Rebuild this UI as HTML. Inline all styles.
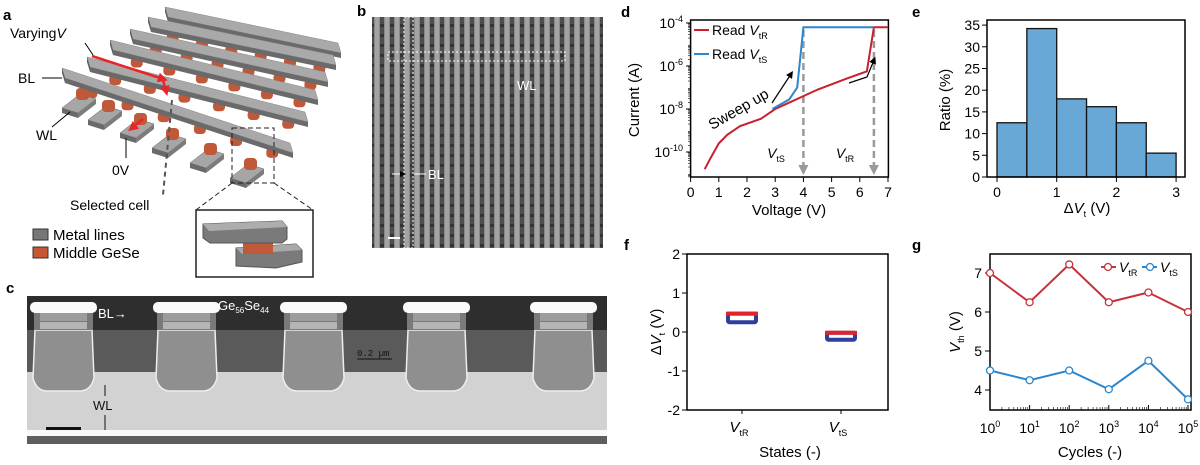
<!DOCTYPE html>
<html><head><meta charset="utf-8">
<style>
html,body{margin:0;padding:0;background:#fff;}
svg{display:block;font-family:"Liberation Sans",Arial,sans-serif;}
</style></head>
<body>
<svg id="fig" width="1200" height="465" viewBox="0 0 1200 465" xmlns="http://www.w3.org/2000/svg">
<defs>
<pattern id="sem" width="10" height="10" patternUnits="userSpaceOnUse">
<rect width="10" height="10" fill="#8a8a8a"/>
<rect x="0" y="0" width="4" height="10" fill="#4d4d4d"/>
<rect x="0" y="4" width="4" height="3" fill="#333"/>
<rect x="5" y="0" width="4" height="10" fill="#a3a3a3"/>
</pattern>
<marker id="ah" markerWidth="6" markerHeight="6" refX="3" refY="3" orient="auto"><path d="M0,0 L6,3 L0,6 z" fill="#000"/></marker>
<marker id="ahr" markerWidth="4" markerHeight="4" refX="2" refY="2" orient="auto"><path d="M0,0 L4,2 L0,4 z" fill="#e8252a"/></marker>
<marker id="ahg" markerWidth="4" markerHeight="4" refX="2" refY="2" orient="auto"><path d="M0,0 L4,2 L0,4 z" fill="#999"/></marker>
</defs>

<!-- Panel a -->
<g id="panel-a">
<text x="3" y="20" font-size="15" font-weight="bold">a</text>
<g id="a-bars"></g>
<polyline points="92,56 163,79" fill="none" stroke="#e8252a" stroke-width="2.5" marker-end="url(#ahr)"/>
<line x1="163" y1="80" x2="166" y2="91" stroke="#e8252a" stroke-width="2.5" marker-end="url(#ahr)"/>
<line x1="143" y1="119" x2="132" y2="128" stroke="#e8252a" stroke-width="2.5" marker-end="url(#ahr)"/>
<text x="10" y="38" font-size="14">Varying<tspan font-style="italic">V</tspan></text>
<line x1="85" y1="43" x2="93" y2="55" stroke="#000"/>
<text x="18" y="83" font-size="14">BL</text>
<line x1="42" y1="78" x2="62" y2="78" stroke="#000"/>
<text x="36" y="140" font-size="14">WL</text>
<line x1="52" y1="127" x2="70" y2="112" stroke="#000"/>
<text x="112" y="175" font-size="14">0V</text>
<line x1="126" y1="138" x2="126" y2="158" stroke="#000"/>
<text x="70" y="210" font-size="14">Selected cell</text>
<line x1="172" y1="100" x2="163" y2="195" stroke="#555" stroke-width="2" stroke-dasharray="5,4"/>
<rect x="232" y="128" width="42" height="55" fill="none" stroke="#222" stroke-dasharray="5,3"/>
<line x1="232" y1="183" x2="196" y2="210" stroke="#222" stroke-dasharray="5,3"/>
<line x1="274" y1="183" x2="313" y2="210" stroke="#222" stroke-dasharray="5,3"/>
<rect x="196" y="210" width="117" height="67" fill="#fff" stroke="#222" stroke-width="1.5"/>
<polygon points="236,248 296,244 302,250 302,262 276,268 236,266" fill="#7a7a7a" stroke="#555"/>
<polygon points="236,248 296,244 302,250 242,254" fill="#a9a9a9"/>
<rect x="243" y="236" width="30" height="18" fill="#c0583a"/>
<polygon points="203,224 282,221 287,227 287,239 282,243 210,243 203,238" fill="#7a7a7a" stroke="#555"/>
<polygon points="203,224 282,221 287,227 209,231" fill="#adadad"/>
<rect x="33" y="229" width="15" height="11" fill="#777" stroke="#333"/>
<text x="53" y="240" font-size="15">Metal lines</text>
<rect x="33" y="247" width="15" height="11" fill="#c8572f" stroke="#333"/>
<text x="53" y="258" font-size="15">Middle GeSe</text>
</g>

<!-- Panel b -->
<g id="panel-b">
<text x="357" y="16" font-size="15" font-weight="bold">b</text>
<rect x="372" y="17" width="231" height="231" fill="url(#sem)"/>
<rect x="404" y="17" width="9" height="231" fill="none" stroke="#fff" stroke-dasharray="2,2"/>
<rect x="388" y="52" width="177" height="9" fill="none" stroke="#fff" stroke-dasharray="2,2"/>
<text x="517" y="90" font-size="13" fill="#fff">WL</text>
<text x="428" y="179" font-size="13" fill="#fff">BL</text>
<line x1="392" y1="174" x2="403" y2="174" stroke="#fff" marker-end="url(#ah)"/>
<line x1="426" y1="174" x2="414" y2="174" stroke="#fff"/>
<rect x="388" y="237" width="12" height="2" fill="#fff"/>
</g>

<!-- Panel c -->
<g id="panel-c">
<text x="6" y="293" font-size="15" font-weight="bold">c</text>
<rect x="27" y="296" width="580" height="34" fill="#2e2e2e"/>
<rect x="27" y="330" width="580" height="42" fill="#5a5a5a"/>
<rect x="27" y="372" width="580" height="58" fill="#d2d2d2"/>
<rect x="27" y="430" width="580" height="6" fill="#f8f8f8"/>
<rect x="27" y="436" width="580" height="8" fill="#5e5e5e"/>
<g id="c-pillars"></g>
<text x="98" y="318" font-size="13" fill="#fff">BL→</text>
<text x="218" y="310" font-size="13" fill="#fff">Ge<tspan font-size="8" dy="3">56</tspan><tspan dy="-3">Se</tspan><tspan font-size="8" dy="3">44</tspan></text>
<text x="357" y="356" font-size="9" fill="#111" font-family="Liberation Mono,monospace">0.2 µm</text>
<line x1="357" y1="359" x2="392" y2="359" stroke="#111"/>
<text x="93" y="410" font-size="13" fill="#111">WL</text>
<line x1="105" y1="385" x2="105" y2="396" stroke="#111"/>
<line x1="105" y1="415" x2="105" y2="430" stroke="#111"/>
<rect x="46" y="427" width="35" height="3" fill="#111"/>
</g>

<g id="chart-d"></g>
<g id="chart-e"></g>
<g id="chart-f"></g>
<g id="chart-g"></g>
</svg>

<script>
// ---------- chart data ----------
const dRedV = [0.5,0.7,1.0,1.3,1.75,2.5,3.0,3.5,4.0,4.5,5.0,5.5,6.25,6.5,7.0];
const dRedLogI = [-10.8,-10.3,-9.6,-9.2,-8.8,-8.45,-8.0,-7.7,-7.4,-7.1,-6.85,-6.6,-6.25,-4.2,-4.2];
const dBlueV = [2.9,3.5,3.78,4.0,6.5];
const dBlueLogI = [-8.0,-7.55,-7.0,-4.2,-4.2];
const dXTicks = [0,1,2,3,4,5,6,7];
const dYTicks = [-4,-6,-8,-10];
const dThresholds = [4.0,6.5];

const eBinEdges = [0,0.5,1.0,1.5,2.0,2.5,3.0];
const eRatios = [12.5,34.2,18.0,16.2,12.5,5.5];
const eXTicks = [0,1,2,3];
const eYTicks = [0,5,10,15,20,25,30,35];

const fCategories = ['tR','tS'];
const fTop = [0.47,-0.02];
const fBottom = [0.25,-0.2];
const fYTicks = [2,1,0,-1,-2];

const gCycles = [0,1,2,3,4,5];
const gVtR = [7.0,6.25,7.22,6.25,6.5,6.0];
const gVtS = [4.5,4.25,4.5,4.02,4.75,3.76];
const gYTicks = [4,5,6,7];

const NS = 'http://www.w3.org/2000/svg';
function mk(parent, tag, attrs, text){
  const el = document.createElementNS(NS, tag);
  for (const k in attrs) el.setAttribute(k, attrs[k]);
  if (text !== undefined) el.textContent = text;
  parent.appendChild(el);
  return el;
}

// ---------- panel a bars ----------
(function(){
  const g = document.getElementById('a-bars');
  const starts = [[165,7],[148,17],[130,29],[110,40],[87,57],[62,68]];
  const ends = [[338,43],[333,55],[325,72],[315,90],[305,112],[290,143]];
  const stubs = [[62,108],[88,120],[120,133],[152,148],[190,163],[230,178]];
  // cylinders under rear bars
  starts.forEach((s,i)=>{
    const e = ends[i];
    for(let k=1;k<=6;k++){
      const t = (k-0.3)/6.3;
      const cx = s[0]+(e[0]-s[0])*t+4, cy = s[1]+(e[1]-s[1])*t+12;
      mk(g,'rect',{x:cx-6,y:cy,width:12,height:10,rx:4,fill:'#c0583a'});
    }
  });
  // wordline stubs
  stubs.forEach((s)=>{
    const [x,y]=s;
    const p = mk(g,'polygon',{points:`${x},${y} ${x+16},${y+5} ${x+34},${y-9} ${x+18},${y-14}`, fill:'#a6a6a6', stroke:'#666','stroke-width':0.5});
    
    
    mk(g,'polygon',{points:`${x},${y} ${x+16},${y+5} ${x+16},${y+10} ${x},${y+5}`, fill:'#6a6a6a'});
    mk(g,'polygon',{points:`${x+16},${y+5} ${x+34},${y-9} ${x+34},${y-4} ${x+16},${y+10}`, fill:'#7c7c7c'});
    mk(g,'rect',{x:x+14,y:y-20,width:13,height:12,rx:4,fill:'#c0583a'});
  });
  // bit line bars (back to front)
  starts.forEach((s,i)=>{
    const e = ends[i];
    const [sx,sy]=s,[ex,ey]=e;
    const top = mk(g,'polygon',{points:`${sx},${sy} ${ex},${ey} ${ex+3},${ey+10} ${sx+3},${sy+10}`, fill:'#a9a9a9', stroke:'#888','stroke-width':0.5});
    
    
    mk(g,'polygon',{points:`${sx+3},${sy+10} ${ex+3},${ey+10} ${ex+3},${ey+15} ${sx+3},${sy+15}`, fill:'#6a6a6a'});
    mk(g,'polygon',{points:`${sx},${sy} ${sx+3},${sy+10} ${sx+3},${sy+15} ${sx},${sy+5}`, fill:'#5e5e5e'});
  });
})();

// ---------- panel c pillars ----------
(function(){
  const g = document.getElementById('c-pillars');
  const px = [32,155,282,405,532];
  px.forEach(x=>{
    const w=63;
    const b = mk(g,'path',{d:`M${x+3},330 L${x+w-3},330 L${x+w-1},378 Q${x+w-4},390 ${x+w-14},391 L${x+14},391 Q${x+4},390 ${x+1},378 Z`, fill:'#8f8f8f', stroke:'#eee','stroke-width':1.5});
    
    
    mk(g,'rect',{x:x+2,y:313,width:w-4,height:17,fill:'#7a7a7a'});
    mk(g,'rect',{x:x+8,y:322,width:w-16,height:7,fill:'#b5b5b5'});
    mk(g,'rect',{x:x+8,y:313,width:w-16,height:8,fill:'#9c9c9c'});
    mk(g,'rect',{x:x-2,y:302,width:w+4,height:11,rx:5,fill:'#fafafa'});
  });
})();

// ---------- chart d ----------
(function(){
  const g = document.getElementById('chart-d');
  const X0=690.6, XS=28.2, Y4=23, DEC=21.5;
  const x = v => X0 + v*XS;
  const y = L => Y4 + (-4-L)*DEC;
  mk(g,'text',{x:621,y:17,'font-size':15,'font-weight':'bold'},'d');
  const fr = mk(g,'rect',{x:690.6,y:20,width:197.8,height:157,fill:'none',stroke:'#000','stroke-width':1.5});
  
  
  dXTicks.forEach(v=>{
    mk(g,'line',{x1:x(v),y1:177,x2:x(v),y2:182,stroke:'#000'});
    const t = mk(g,'text',{x:x(v),y:197,'font-size':14,'text-anchor':'middle'},String(v));
    
    
  });
  dYTicks.forEach(L=>{
    mk(g,'line',{x1:686,y1:y(L),x2:690.6,y2:y(L),stroke:'#000'});
    const t = mk(g,'text',{x:683,y:y(L)+5,'font-size':14,'text-anchor':'end'});
    
    
    mk(t,'tspan',{},'10');
    mk(t,'tspan',{'font-size':9,dy:-6},String(L));
  });
  for(let L=-4;L>-11.2;L-=1){ for(let k=2;k<10;k++){ const yy=y(L-1+Math.log10(k)); if(yy<177) mk(g,'line',{x1:688,y1:yy,x2:690.6,y2:yy,stroke:'#000','stroke-width':0.6}); } }
  dThresholds.forEach(v=>{
    const l = mk(g,'line',{x1:x(v),y1:30,x2:x(v),y2:170,stroke:'#999','stroke-width':2.5,'stroke-dasharray':'7,4','marker-end':'url(#ahg)'});
    
    
  });
  const rp = mk(g,'polyline',{points:dRedV.map((v,i)=>x(v)+','+y(dRedLogI[i])).join(' '),fill:'none',stroke:'#c8202e','stroke-width':2});
  
  
  const bp = mk(g,'polyline',{points:dBlueV.map((v,i)=>x(v)+','+y(dBlueLogI[i])).join(' '),fill:'none',stroke:'#2b86cc','stroke-width':2});
  
  
  mk(g,'line',{x1:772,y1:103,x2:791,y2:74,stroke:'#000','stroke-width':1.2,'marker-end':'url(#ah)'});
  mk(g,'polyline',{points:'849,83 867,77 874,60',fill:'none',stroke:'#000','stroke-width':1.2,'marker-end':'url(#ah)'});
  mk(g,'text',{x:739,y:114,'font-size':15,'text-anchor':'middle',transform:'rotate(-30 739 110)'},'Sweep up');
  let t = mk(g,'text',{x:776,y:158,'font-size':14,'text-anchor':'middle','font-style':'italic'},'V');
  mk(t,'tspan',{'font-size':9,'font-style':'normal',dy:4},'tS');
  t = mk(g,'text',{x:845,y:158,'font-size':14,'text-anchor':'middle','font-style':'italic'},'V');
  mk(t,'tspan',{'font-size':9,'font-style':'normal',dy:4},'tR');
  mk(g,'line',{x1:694,y1:30,x2:709,y2:30,stroke:'#c8202e','stroke-width':2});
  t = mk(g,'text',{x:712,y:35,'font-size':14},'Read ');
  
  
  mk(t,'tspan',{'font-style':'italic'},'V');
  mk(t,'tspan',{'font-size':9,dy:4},'tR');
  mk(g,'line',{x1:694,y1:54,x2:709,y2:54,stroke:'#2b86cc','stroke-width':2});
  t = mk(g,'text',{x:712,y:59,'font-size':14},'Read ');
  
  
  mk(t,'tspan',{'font-style':'italic'},'V');
  mk(t,'tspan',{'font-size':9,dy:4},'tS');
  t = mk(g,'text',{x:639,y:100,'font-size':15,'text-anchor':'middle',transform:'rotate(-90 639 100)'},'Current (A)');
  
  
  t = mk(g,'text',{x:789,y:215,'font-size':15,'text-anchor':'middle'},'Voltage (V)');
  
  
})();

// ---------- chart e ----------
(function(){
  const g = document.getElementById('chart-e');
  const x = v => 997 + v*59.7;
  const y = p => 177 - p*4.34;
  mk(g,'text',{x:912,y:17,'font-size':15,'font-weight':'bold'},'e');
  eRatios.forEach((r,i)=>{
    const b = mk(g,'rect',{x:x(eBinEdges[i]),y:y(r),width:x(eBinEdges[i+1])-x(eBinEdges[i]),height:177-y(r),fill:'#68a8d6',stroke:'#111','stroke-width':1.3});
    
    
  });
  const fr = mk(g,'rect',{x:987,y:20,width:198,height:157,fill:'none',stroke:'#000','stroke-width':1.5});
  
  
  eXTicks.forEach(v=>{
    mk(g,'line',{x1:x(v),y1:177,x2:x(v),y2:182,stroke:'#000'});
    const t = mk(g,'text',{x:x(v),y:197,'font-size':14,'text-anchor':'middle'},String(v));
    
    
  });
  eYTicks.forEach(p=>{
    mk(g,'line',{x1:982,y1:y(p),x2:987,y2:y(p),stroke:'#000'});
    const t = mk(g,'text',{x:980,y:y(p)+5,'font-size':14,'text-anchor':'end'},String(p));
    
    
  });
  let t = mk(g,'text',{x:950,y:100,'font-size':15,'text-anchor':'middle',transform:'rotate(-90 950 100)'},'Ratio (%)');
  
  
  t = mk(g,'text',{x:1087,y:213,'font-size':15,'text-anchor':'middle'},'Δ');
  
  
  mk(t,'tspan',{'font-style':'italic'},'V');
  mk(t,'tspan',{'font-size':9,dy:4},'t');
  mk(t,'tspan',{dy:-4},' (V)');
})();

// ---------- chart f ----------
(function(){
  const g = document.getElementById('chart-f');
  const y = v => 332 - v*39;
  const cx = [742,841];
  mk(g,'text',{x:624,y:250,'font-size':15,'font-weight':'bold'},'f');
  const fr = mk(g,'rect',{x:687,y:254,width:201,height:156,fill:'none',stroke:'#000','stroke-width':1.5});
  
  
  fYTicks.forEach(v=>{
    mk(g,'line',{x1:682,y1:y(v),x2:687,y2:y(v),stroke:'#000'});
    const t = mk(g,'text',{x:680,y:y(v)+5,'font-size':14,'text-anchor':'end'},String(v));
    
    
  });
  fCategories.forEach((c,i)=>{
    mk(g,'line',{x1:cx[i],y1:410,x2:cx[i],y2:414,stroke:'#000'});
    const b = mk(g,'rect',{x:cx[i]-14,y:y(fTop[i]),width:28,height:y(fBottom[i])-y(fTop[i]),fill:'#fff',stroke:'#2d3f9a','stroke-width':4,rx:1.5});
    
    
    mk(g,'line',{x1:cx[i]-16,y1:y(fTop[i]),x2:cx[i]+16,y2:y(fTop[i]),stroke:'#e3232b','stroke-width':4});
    const t = mk(g,'text',{x:cx[i]-3,y:432,'font-size':15,'text-anchor':'middle','font-style':'italic'},'V');
    
    
    mk(t,'tspan',{'font-size':9,'font-style':'normal',dy:4},c);
  });
  let t = mk(g,'text',{x:661,y:332,'font-size':15,'text-anchor':'middle',transform:'rotate(-90 661 332)'},'Δ');
  
  
  mk(t,'tspan',{'font-style':'italic'},'V');
  mk(t,'tspan',{'font-size':9,dy:4},'t');
  mk(t,'tspan',{dy:-4},' (V)');
  t = mk(g,'text',{x:790,y:457,'font-size':15,'text-anchor':'middle'},'States (-)');
  
  
})();

// ---------- chart g ----------
(function(){
  const g = document.getElementById('chart-g');
  const x = d => 990 + d*39.6;
  const y = v => 273 + (7-v)*39;
  mk(g,'text',{x:912,y:250,'font-size':15,'font-weight':'bold'},'g');
  const fr = mk(g,'rect',{x:990,y:254,width:201,height:156,fill:'none',stroke:'#000','stroke-width':1.5});
  
  
  gYTicks.forEach(v=>{
    mk(g,'line',{x1:985,y1:y(v),x2:990,y2:y(v),stroke:'#000'});
    const t = mk(g,'text',{x:982,y:y(v)+5,'font-size':14,'text-anchor':'end'},String(v));
    
    
  });
  gCycles.forEach(d=>{
    mk(g,'line',{x1:x(d),y1:410,x2:x(d),y2:405,stroke:'#000'});
    if(d<5) for(let k=2;k<10;k++){ const xx=x(d+Math.log10(k)); mk(g,'line',{x1:xx,y1:410,x2:xx,y2:407,stroke:'#000','stroke-width':0.6}); }
    const t = mk(g,'text',{x:x(d),y:433,'font-size':14,'text-anchor':'middle'},'10');
    
    
    mk(t,'tspan',{'font-size':9,dy:-6},String(d));
  });
  [[gVtR,'#c8303a','vtr'],[gVtS,'#2b86cc','vts']].forEach(([arr,col,nm])=>{
    const l = mk(g,'polyline',{points:gCycles.map((d,i)=>x(d)+','+y(arr[i])).join(' '),fill:'none',stroke:col,'stroke-width':2});
    
    
    arr.forEach((v,i)=>{
      const c = mk(g,'circle',{cx:x(gCycles[i]),cy:y(v),r:3.5,fill:'#fff',stroke:col,'stroke-width':1.3});
      
      
    });
  });
  mk(g,'line',{x1:1101,y1:267,x2:1116,y2:267,stroke:'#c8303a','stroke-width':2});
  mk(g,'circle',{cx:1108,cy:267,r:3.5,fill:'#fff',stroke:'#c8303a','stroke-width':1.3});
  let t = mk(g,'text',{x:1119,y:272,'font-size':14,'font-style':'italic'},'V');
  
  
  mk(t,'tspan',{'font-size':9,'font-style':'normal',dy:4},'tR');
  mk(g,'line',{x1:1142,y1:267,x2:1157,y2:267,stroke:'#2b86cc','stroke-width':2});
  mk(g,'circle',{cx:1150,cy:267,r:3.5,fill:'#fff',stroke:'#2b86cc','stroke-width':1.3});
  t = mk(g,'text',{x:1160,y:272,'font-size':14,'font-style':'italic'},'V');
  
  
  mk(t,'tspan',{'font-size':9,'font-style':'normal',dy:4},'tS');
  t = mk(g,'text',{x:960,y:332,'font-size':15,'text-anchor':'middle','font-style':'italic',transform:'rotate(-90 960 332)'},'V');
  
  
  mk(t,'tspan',{'font-size':9,'font-style':'normal',dy:4},'th');
  mk(t,'tspan',{'font-style':'normal',dy:-4},' (V)');
  t = mk(g,'text',{x:1090,y:457,'font-size':15,'text-anchor':'middle'},'Cycles (-)');
  
  
})();
</script>
</body></html>
